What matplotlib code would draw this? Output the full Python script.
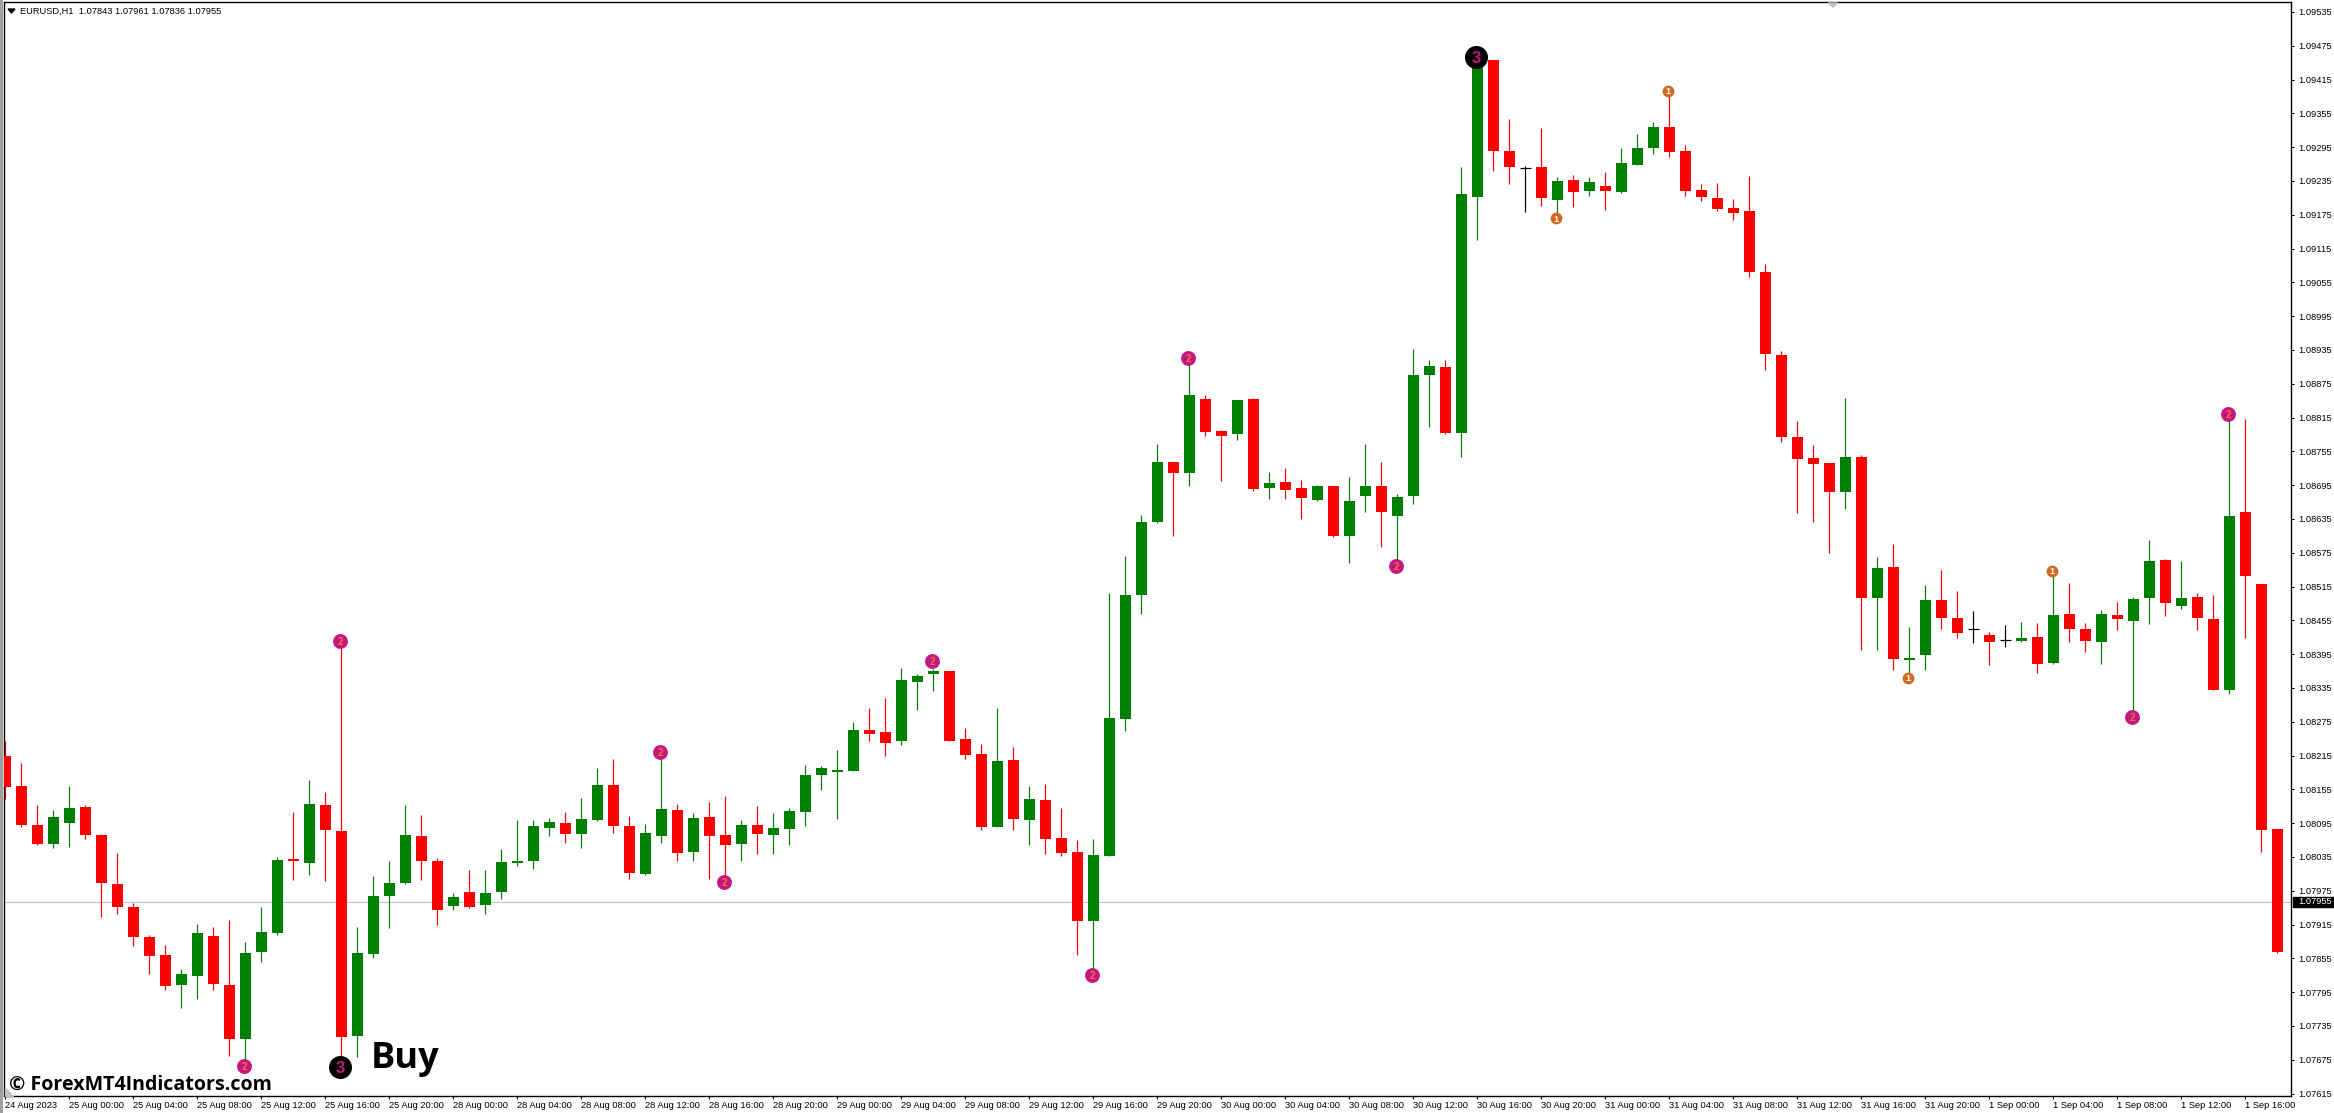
import numpy as np
from matplotlib import pyplot as plt
from matplotlib.patches import Rectangle, Polygon

W, H = 2334, 1113

# prices are in points (1e-5)
opens = np.array([
    108214, 108161, 108092, 108058, 108096, 108124, 108074, 107987, 107946, 107893,
    107861, 107808, 107824, 107895, 107808, 107712, 107867, 107900, 108031, 108025,
    108127, 108081, 107718, 107863, 107966, 107988, 108072, 108028, 107948, 107973,
    107950, 107972, 108024, 108027, 108087, 108095, 108076, 108101, 108163, 108090,
    108005, 108073, 108118, 108044, 108106, 108074, 108058, 108092, 108074, 108085,
    108115, 108181, 108186, 108188, 108260, 108257, 108240, 108346, 108359, 108365,
    108244, 108218, 108089, 108207, 108101, 108136, 108069, 108044, 107922, 108037,
    108280, 108500, 108630, 108736, 108717, 108848, 108791, 108785, 108848, 108690,
    108701, 108690, 108669, 108694, 108605, 108676, 108694, 108641, 108676, 108891,
    108905, 108787, 109207, 109450, 109288, 109258, 109260, 109202, 109237, 109218,
    109226, 109215, 109264, 109294, 109331, 109288, 109219, 109205, 109187, 109182,
    109073, 108926, 108781, 108743, 108734, 108683, 108745, 108495, 108550, 108385,
    108393, 108491, 108459, 108439, 108429, 108420, 108419, 108425, 108380, 108466,
    108440, 108417, 108464, 108453, 108495, 108562, 108481, 108496, 108457, 108332,
    108647, 108519, 108085]) / 1e5
closes = np.array([
    108160, 108092, 108058, 108106, 108122, 108074, 107989, 107947, 107892, 107860,
    107806, 107827, 107900, 107810, 107712, 107864, 107902, 108030, 108028, 108129,
    108082, 107716, 107864, 107966, 107989, 108074, 108028, 107941, 107964, 107946,
    107971, 108026, 108028, 108090, 108097, 108076, 108102, 108163, 108090, 108007,
    108077, 108120, 108042, 108104, 108073, 108057, 108092, 108076, 108086, 108116,
    108180, 108193, 108189, 108260, 108254, 108238, 108349, 108356, 108365, 108241,
    108216, 108089, 108205, 108103, 108138, 108066, 108042, 107922, 108038, 108282,
    108500, 108630, 108736, 108717, 108855, 108790, 108783, 108846, 108689, 108699,
    108687, 108673, 108694, 108605, 108667, 108694, 108648, 108674, 108891, 108907,
    108788, 109212, 109450, 109289, 109259, 109258, 109204, 109235, 109216, 109233,
    109218, 109267, 109294, 109331, 109287, 109218, 109206, 109186, 109179, 109074,
    108927, 108780, 108742, 108733, 108682, 108745, 108494, 108548, 108387, 108388,
    108491, 108460, 108433, 108439, 108416, 108420, 108424, 108378, 108464, 108440,
    108419, 108466, 108458, 108493, 108560, 108485, 108495, 108460, 108332, 108640,
    108534, 108083, 107867]) / 1e5
highs = np.array([
    108241, 108202, 108127, 108118, 108161, 108127, 108076, 108042, 107953, 107896,
    107879, 107836, 107916, 107911, 107923, 107884, 107946, 108035, 108115, 108172,
    108150, 108411, 107911, 108002, 108028, 108127, 108109, 108033, 107971, 108012,
    108012, 108049, 108101, 108101, 108104, 108115, 108140, 108193, 108209, 108108,
    108093, 108211, 108129, 108113, 108132, 108143, 108101, 108125, 108113, 108122,
    108198, 108196, 108225, 108275, 108299, 108317, 108370, 108360, 108369, 108365,
    108264, 108235, 108299, 108230, 108161, 108165, 108122, 108065, 108067, 108504,
    108569, 108642, 108768, 108736, 108914, 108855, 108793, 108847, 108850, 108718,
    108725, 108704, 108695, 108694, 108709, 108768, 108736, 108679, 108937, 108917,
    108917, 109260, 109455, 109450, 109345, 109261, 109329, 109242, 109246, 109242,
    109251, 109294, 109319, 109340, 109391, 109299, 109230, 109232, 109203, 109244,
    109088, 108933, 108809, 108766, 108734, 108850, 108748, 108567, 108590, 108443,
    108518, 108544, 108507, 108472, 108434, 108447, 108452, 108450, 108535, 108521,
    108450, 108473, 108488, 108496, 108598, 108564, 108560, 108503, 108500, 108814,
    108812, 108519, 108085]) / 1e5
lows = np.array([
    108138, 108089, 108057, 108051, 108053, 108066, 107929, 107934, 107876, 107828,
    107799, 107767, 107783, 107798, 107682, 107675, 107848, 107897, 107994, 108003,
    107993, 107682, 107680, 107856, 107908, 107987, 107994, 107915, 107940, 107945,
    107934, 107961, 108019, 108014, 108073, 108060, 108051, 108099, 108078, 107996,
    108003, 108060, 108028, 108027, 107995, 107999, 108028, 108041, 108041, 108057,
    108090, 108153, 108103, 108187, 108241, 108215, 108234, 108296, 108330, 108240,
    108208, 108083, 108088, 108083, 108057, 108041, 108037, 107861, 107834, 108036,
    108259, 108467, 108628, 108605, 108694, 108783, 108702, 108776, 108685, 108671,
    108671, 108635, 108666, 108603, 108557, 108648, 108586, 108562, 108662, 108799,
    108785, 108745, 109131, 109253, 109229, 109180, 109191, 109169, 109189, 109209,
    109184, 109214, 109263, 109282, 109277, 109209, 109200, 109182, 109166, 109065,
    108900, 108772, 108646, 108629, 108575, 108653, 108403, 108403, 108367, 108356,
    108366, 108439, 108424, 108414, 108375, 108408, 108417, 108362, 108378, 108416,
    108399, 108378, 108438, 108294, 108448, 108463, 108476, 108437, 108331, 108325,
    108424, 108043, 107864]) / 1e5

# indicator dots: bar index, price
dots_1_bars = [97, 104, 119, 128]
dots_1_prices = [1.09169, 1.09395, 1.08353, 1.08543]
dots_2_bars = [15, 21, 41, 45, 58, 68, 74, 87, 133, 139]
dots_2_prices = [1.07664, 1.08418, 1.08221, 1.07990, 1.08382,
                 1.07825, 1.08920, 1.08551, 1.08283, 1.08821]
dots_3_bars = [21, 92]
dots_3_prices = [1.07662, 1.09455]

last_price = 1.07955
header = "EURUSD,H1  1.07843 1.07961 1.07836 1.07955"

days = ["25 Aug", "28 Aug", "29 Aug", "30 Aug", "31 Aug", "1 Sep"]
hours = ["00:00", "04:00", "08:00", "12:00", "16:00", "20:00"]
x_labels = ["24 Aug 2023"]
for d in days:
    for h in hours:
        x_labels.append(d + " " + h)
x_labels = x_labels[:36]

y_ticks = [(107615 + 60 * k) / 1e5 for k in range(33)]

plt.rcParams['font.family'] = ['Liberation Sans', 'DejaVu Sans']

fig = plt.figure(figsize=(W / 100, H / 100), dpi=100, facecolor='white')
ax = fig.add_axes([4 / W, 1 - 1096 / H, (2291 - 4) / W, (1096 - 2) / H])
ax.set_xlim(-0.0875, 142.85)
ax.set_ylim(1.076106, 1.095527)
for s in ax.spines.values():
    s.set_linewidth(1.0)

green, red = '#008000', '#FF0000'
px = 0.72  # one pixel in points

bars = np.arange(len(opens))
up = closes > opens
down = closes < opens
doji = closes == opens

ax.axhline(last_price, color='#C0C0C0', lw=1.1 * px, zorder=1)

for mask, col in [(up, green), (down, red), (doji, 'black')]:
    ax.vlines(bars[mask], lows[mask], highs[mask], color=col, lw=1.2 * px, zorder=2)
    if col != 'black':
        ax.bar(bars[mask], np.abs(closes - opens)[mask], 0.6875,
               bottom=np.minimum(opens, closes)[mask], color=col, lw=0, zorder=3)
    else:
        ax.hlines(closes[mask], bars[mask] - 0.34, bars[mask] + 0.34, color=col, lw=1.2 * px, zorder=3)

# indicator dots
def draw_dots(idx, prices, size, face, digit, digit_col, fs):
    xs = np.array(idx) - 0.06
    ax.scatter(xs, prices, s=size, color=face, lw=0, zorder=5)
    for x, p in zip(xs, prices):
        ax.text(x, p, digit, color=digit_col, fontsize=fs, ha='center', va='center_baseline',
                fontweight='bold', zorder=6)

draw_dots(dots_1_bars, dots_1_prices, 72, '#D2691E', '1', 'white', 6.5)
draw_dots(dots_2_bars, dots_2_prices, 115, '#C71585', '2', '#E08020', 7)
draw_dots(dots_3_bars, dots_3_prices, 275, 'black', '3', '#C71585', 12)

ax.set_xticks(bars[::4][:len(x_labels)])
ax.set_xticklabels(x_labels, ha='left', fontsize=6.7)
ax.set_yticks(y_ticks)
ax.set_yticklabels(["%.5f" % t for t in y_ticks], fontsize=6.7)
ax.yaxis.tick_right()
ax.tick_params(axis='x', length=3 * px, width=px, pad=1.5)
ax.tick_params(axis='y', length=3 * px, width=px, pad=3)

# current price box on the scale
ytrans = ax.get_yaxis_transform()
ax.add_patch(Rectangle((1.0008, last_price - 0.00009), 0.0187, 0.00018, transform=ytrans,
                       color='black', clip_on=False, zorder=7))
ax.text(1.0030, last_price, "%.5f" % last_price, transform=ytrans, color='white', fontsize=6.7,
        va='center', ha='left', zorder=8, clip_on=False)

# chart header
fig.text(20 / W, 1 - 11 / H, header, fontsize=6.7, va='center', ha='left')
fig.add_artist(Polygon([[8 / W, 1 - 9 / H], [15 / W, 1 - 9 / H], [11.5 / W, 1 - 13 / H]], color='black'))

# window bits
fig.add_artist(Rectangle((0, 0), 2.5 / W, 1, color='#A0A0A0', lw=0))
fig.add_artist(Polygon([[1828 / W, 1 - 3 / H], [1838 / W, 1 - 3 / H], [1833 / W, 1 - 7 / H]], color='#C0C0C0'))
fig.add_artist(Polygon([[5 / W, 1 - 1088 / H], [5 / W, 1 - 1096 / H], [13 / W, 1 - 1096 / H]], color='#C0C0C0'))

# overlay text
fig.text(371 / W, 1 - 1068 / H, "Buy", fontsize=26, fontweight='bold', family='Open Sans', va='baseline', ha='left')
fig.text(9 / W, 1 - 1090 / H, "\u00a9 ForexMT4Indicators.com", fontsize=14.1, fontweight='bold',
         family='Open Sans', va='baseline', ha='left')

fig.savefig('out.png', dpi=100)
